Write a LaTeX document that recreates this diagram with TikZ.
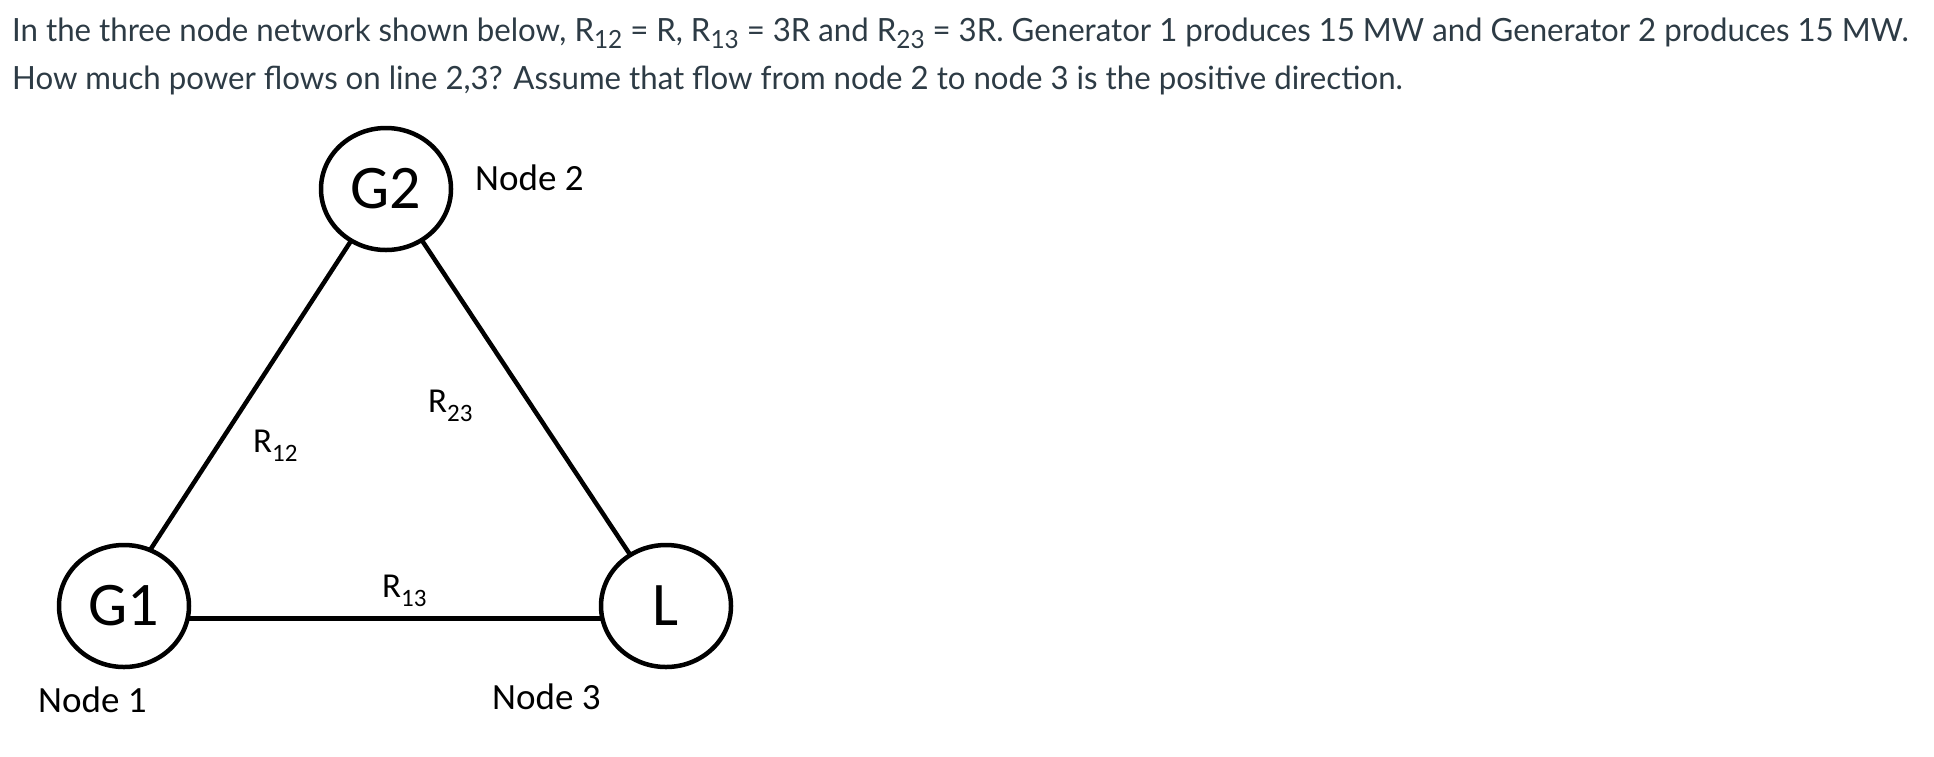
\documentclass[tikz,border=0pt]{standalone}
\usepackage{fontspec}
\usetikzlibrary{shapes.geometric}
\newfontfamily\latofont[FakeStretch=0.975]{Lato}
\newfontfamily\carlfont{Carlito}
\definecolor{hdr}{HTML}{2D3B45}
\newcommand\hsub[1]{\raisebox{-7pt}{\fontsize{25}{25}\selectfont #1}}
\newcommand\dsub[1]{\raisebox{-9pt}{\fontsize{25}{25}\selectfont #1}}
\begin{document}
\begin{tikzpicture}[x=1pt,y=-1pt,
  bus/.style={ellipse,draw,line width=4.5pt,minimum width=130pt,minimum height=122pt,inner sep=0pt,outer sep=0pt,font=\carlfont\fontsize{62}{62}\selectfont},
  wire/.style={line width=4.5pt},
  lbl/.style={anchor=base west,inner sep=0pt,font=\carlfont\fontsize{37}{37}\selectfont},
  rlbl/.style={anchor=base west,inner sep=0pt,font=\carlfont\fontsize{35}{35}\selectfont},
  hdrtxt/.style={anchor=base west,inner sep=0pt,text=hdr,font=\latofont\fontsize{32}{32}\selectfont}]
\useasboundingbox (0,0) rectangle (1934,756);
\node[hdrtxt] (h1) at (12,41) {In the three node network shown below, R\hsub{12} = R, R\hsub{13} = 3R and R\hsub{23} = 3R. Generator 1 produces 15 MW and Generator 2 produces 15 MW.};
\node[hdrtxt] (h2) at (12,89) {How much power flows on line 2,3? Assume that flow from node 2 to node 3 is the positive direction.};
\node[bus] (g2) at (386,189) {G2};
\node[bus] (g1) at (124,606) {G1};
\node[bus] (ld) at (666,606) {L};
\draw[wire] (g2.236.5) -- (g1.65.7);
\draw[wire] (g2.-55.6) -- (ld.125.4);
\draw[wire] (g1.-11) -- (ld.191);
\node[lbl] (n2) at (475,190) {Node 2};
\node[lbl] (n1) at (38,712) {Node 1};
\node[lbl] (n3) at (492,709) {Node 3};
\node[rlbl] (r12) at (253,452) {R\dsub{12}};
\node[rlbl] (r23) at (428,412) {R\dsub{23}};
\node[rlbl] (r13) at (382,597) {R\dsub{13}};
\end{tikzpicture}
\end{document}
